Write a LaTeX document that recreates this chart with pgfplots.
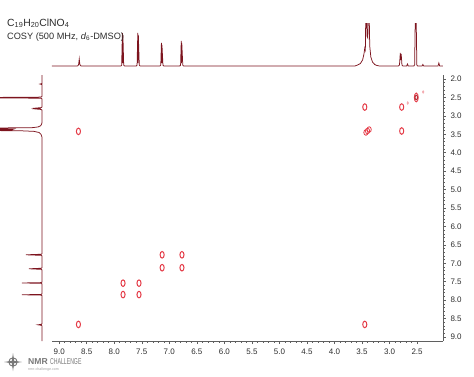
\documentclass[border=0pt]{standalone}
\usepackage{pgfplots}
\pgfplotsset{compat=1.18}
\usepackage{graphicx}
\usepackage{fontspec}
\setmainfont{Liberation Sans}
\definecolor{specred}{RGB}{125,20,30}
\definecolor{xred}{RGB}{228,60,72}
\definecolor{axgray}{RGB}{95,95,95}
\definecolor{txtgray}{RGB}{45,45,45}
\definecolor{logogray}{RGB}{120,120,120}

\pgfplotstableread{
ppm int
9.13 0
8.67 0
8.655 0.5
8.645 2
8.635 7
8.625 2
8.615 0.5
8.60 0
7.88 0
7.865 0.8
7.852 33
7.847 3
7.842 31
7.828 0.8
7.81 0
7.60 0
7.585 0.8
7.572 33
7.567 3
7.562 31
7.545 0.8
7.53 0
7.17 0
7.155 0.8
7.143 23
7.138 3
7.133 21
7.115 0.8
7.10 0
6.81 0
6.795 0.8
6.783 25
6.778 3
6.773 23
6.755 0.8
6.74 0
3.63 0
3.58 1
3.53 2.5
3.49 6
3.465 12
3.45 18
3.44 16
3.425 80
3.41 30
3.395 28
3.38 80
3.36 20
3.34 9
3.31 4
3.27 1.5
3.23 0.5
3.18 0
2.84 0
2.82 1
2.805 13
2.797 6
2.789 12
2.775 1
2.76 0
2.69 0
2.675 2
2.66 0
2.56 0
2.545 1
2.525 80
2.505 1
2.49 0
2.41 0
2.395 1.5
2.38 0
2.12 0
2.105 3
2.09 0
2.03 0
}\topspec

\pgfplotstableread{
ppm int
1.89 0
2.12 0
2.135 2
2.15 0
2.47 0
2.49 1
2.505 80
2.52 1
2.54 0
2.76 0
2.775 1
2.79 7
2.80 4
2.81 7
2.825 1
2.84 0
3.18 0
3.23 0.5
3.27 1.5
3.30 4
3.32 10
3.335 80
3.355 28
3.375 30
3.39 80
3.405 20
3.42 8
3.45 3
3.50 1
3.58 0
6.74 0
6.755 0.8
6.77 16
6.785 0.8
6.80 0
7.12 0
7.135 0.8
7.15 13
7.165 0.8
7.18 0
7.51 0
7.525 0.8
7.535 20
7.545 0.8
7.56 0
7.83 0
7.845 0.8
7.855 20
7.865 0.8
7.88 0
8.64 0
8.655 0.5
8.67 4
8.685 0.5
8.70 0
9.11 0
}\leftspec

\pgfplotstableread{
x y
8.65 8.66
8.65 3.42
3.45 8.66
7.84 7.54
7.55 7.54
7.84 7.85
7.55 7.85
7.13 6.77
6.77 6.77
7.13 7.12
6.77 7.12
3.45 2.76
2.78 2.76
2.78 3.41
}\cross

\pgfplotstableread{
x y
3.43 3.45
3.40 3.41
3.37 3.37
}\cluster

\pgfplotstableread{
x y
2.67 2.65
2.39 2.35
}\faint

\begin{document}
\begin{tikzpicture}[x=1pt,y=1pt]
\path (0,0) rectangle (474,376);

% main 2D COSY axis
\begin{axis}[at={(52pt,35pt)}, anchor=south west, scale only axis,
  width=391pt, height=266pt,
  x dir=reverse, y dir=reverse,
  xmin=2.03, xmax=9.13, ymin=1.89, ymax=9.11,
  axis x line*=bottom, axis y line*=right,
  axis line style={axgray, line width=0.6pt},
  xtick={2.5,3,...,9}, ytick={2,2.5,...,9},
  minor tick num=4,
  tick align=outside,
  major tick length=3pt, minor tick length=1.8pt,
  tick style={axgray, line width=0.5pt},
  ticklabel style={font=\fontsize{8}{9}\selectfont, text=txtgray},
  xticklabel style={yshift=-1pt},
  yticklabel style={xshift=1pt},
  /pgf/number format/.cd, fixed, fixed zerofill, precision=1, assume math mode=true,
  clip=true]
\addplot[only marks, mark=o, color=xred, mark size=3.3pt,
  mark options={xscale=0.62, line width=1pt}] table[x=x,y=y] {\cross};
\addplot[only marks, mark=o, color=xred, mark size=2.8pt,
  mark options={xscale=0.75, line width=0.8pt}] table[x=x,y=y] {\cluster};
\addplot[only marks, mark=o, color=xred, mark size=4.4pt,
  mark options={xscale=0.45, line width=0.9pt}] coordinates {(2.515,2.50)};
\addplot[only marks, mark=o, color=xred!80!black, mark size=2.3pt,
  mark options={xscale=0.55, line width=1pt}] coordinates {(2.515,2.50)};
\addplot[only marks, mark=*, color=xred!45, mark size=0.9pt,
  mark options={yscale=1.6}] table[x=x,y=y] {\faint};
\end{axis}

% top 1D spectrum
\begin{axis}[at={(52pt,309pt)}, anchor=south west, scale only axis,
  width=391pt, height=43pt,
  x dir=reverse, xmin=2.03, xmax=9.13, ymin=-1, ymax=42,
  hide axis, clip=true]
\addplot[specred, line width=0.75pt] table[x=ppm,y=int] {\topspec};
\end{axis}

% left 1D spectrum
\begin{axis}[at={(0pt,35pt)}, anchor=south west, scale only axis,
  width=43pt, height=266pt,
  x dir=reverse, y dir=reverse,
  xmin=-1, xmax=42, ymin=1.89, ymax=9.11,
  hide axis, clip=true]
\addplot[specred, line width=0.75pt] table[x=int,y=ppm] {\leftspec};
\end{axis}

% titles
\node[anchor=base west, font=\fontsize{10.4}{12}\selectfont, text=txtgray, inner sep=0pt]
  at (7,350) {C\textsubscript{19}H\textsubscript{20}ClNO\textsubscript{4}};
\node[anchor=base west, font=\fontsize{9.2}{11}\selectfont, text=txtgray, inner sep=0pt]
  at (7,337) {COSY (500 MHz, \textit{d}\textsubscript{6}-DMSO)};

% logo
\begin{scope}[logogray]
\draw[line width=0.9pt] (13,14) circle (4.2);
\fill (13,14) circle (1.6);
\fill (13,23) -- (14.2,15.2) -- (11.8,15.2) -- cycle;
\fill (13,5) -- (14.2,12.8) -- (11.8,12.8) -- cycle;
\fill (4,14) -- (11.8,15.2) -- (11.8,12.8) -- cycle;
\fill (22,14) -- (14.2,15.2) -- (14.2,12.8) -- cycle;
\end{scope}
\node[anchor=base west, inner sep=0pt, text=logogray, font=\fontsize{8.6}{9}\selectfont\bfseries]
  at (28,12) {NMR};
\node[anchor=base west, inner sep=0pt, text=logogray, font=\fontsize{8.6}{9}\selectfont]
  at (50,12) {\scalebox{0.6}[1]{CHALLENGE}};
\node[anchor=base west, inner sep=0pt, text=logogray!70, font=\fontsize{3.6}{4}\selectfont]
  at (28,5.5) {nmr-challenge.com};
\end{tikzpicture}
\end{document}
